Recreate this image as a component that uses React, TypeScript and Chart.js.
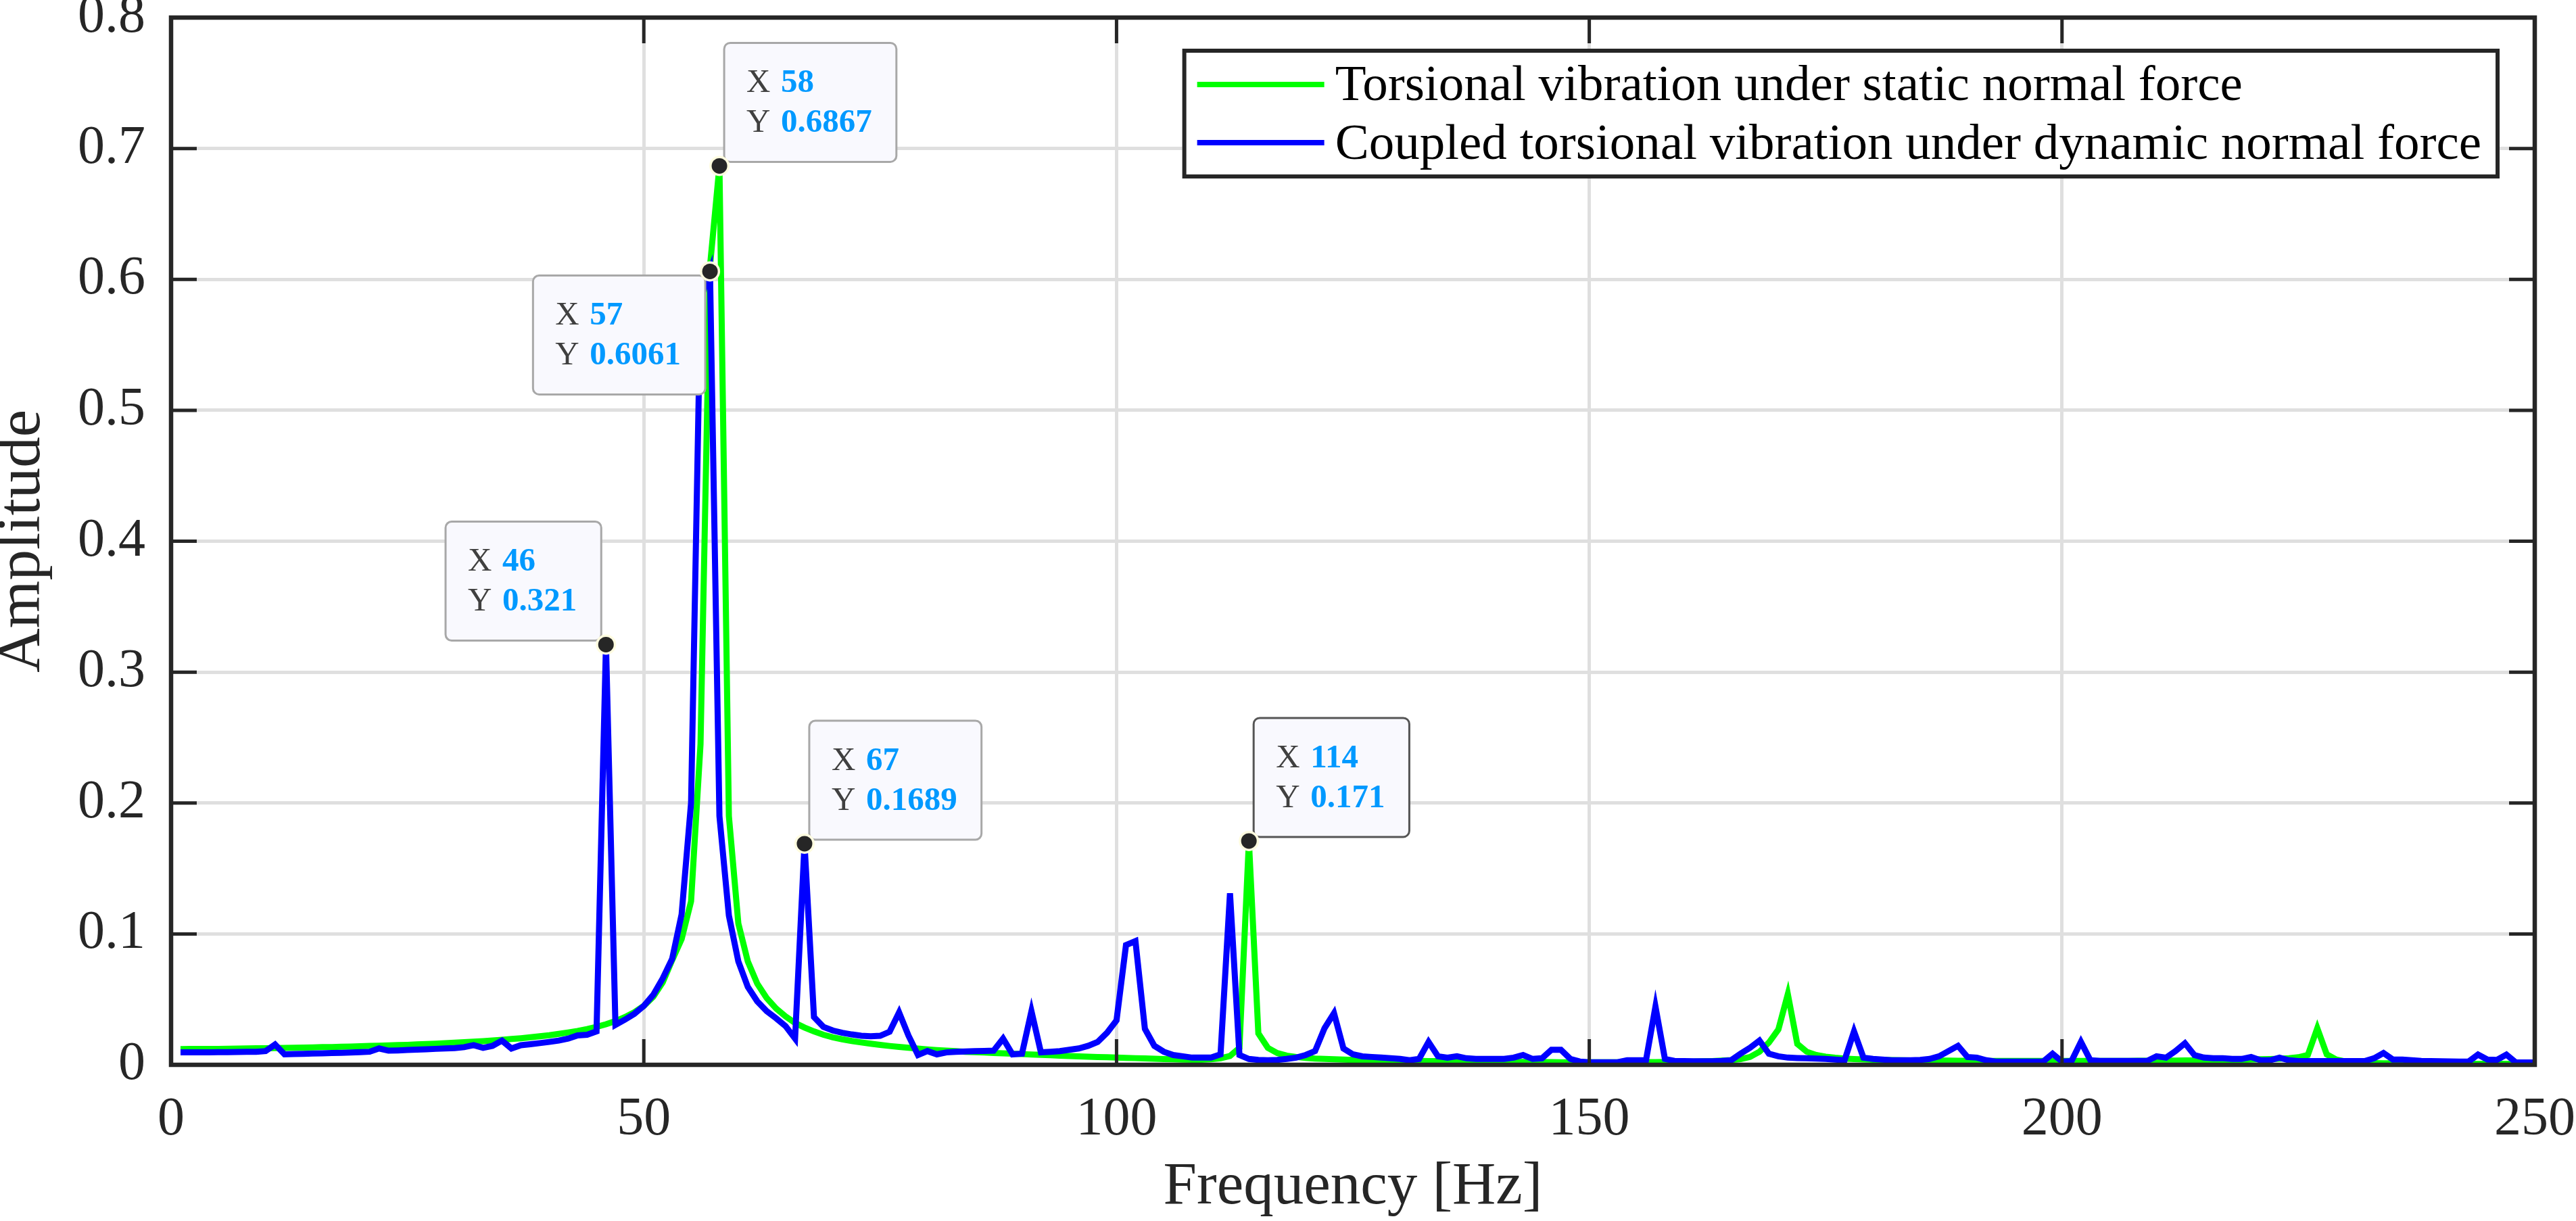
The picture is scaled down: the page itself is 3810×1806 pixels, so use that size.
import React, { useEffect, useRef } from 'react';
import { Chart, registerables } from 'chart.js';

Chart.register(...registerables);

// ---------------- data ----------------
const frequencyHz = [
  1, 2, 3, 4, 5, 6, 7, 8, 9, 10, 11, 12, 13, 14, 15, 16, 17, 18, 19, 20,
  21, 22, 23, 24, 25, 26, 27, 28, 29, 30, 31, 32, 33, 34, 35, 36, 37, 38, 39, 40,
  41, 42, 43, 44, 45, 46, 47, 48, 49, 50, 51, 52, 53, 54, 55, 56, 57, 58, 59, 60,
  61, 62, 63, 64, 65, 66, 67, 68, 69, 70, 71, 72, 73, 74, 75, 76, 77, 78, 79, 80,
  81, 82, 83, 84, 85, 86, 87, 88, 89, 90, 91, 92, 93, 94, 95, 96, 97, 98, 99, 100,
  101, 102, 103, 104, 105, 106, 107, 108, 109, 110, 111, 112, 113, 114, 115, 116, 117, 118, 119, 120,
  121, 122, 123, 124, 125, 126, 127, 128, 129, 130, 131, 132, 133, 134, 135, 136, 137, 138, 139, 140,
  141, 142, 143, 144, 145, 146, 147, 148, 149, 150, 151, 152, 153, 154, 155, 156, 157, 158, 159, 160,
  161, 162, 163, 164, 165, 166, 167, 168, 169, 170, 171, 172, 173, 174, 175, 176, 177, 178, 179, 180,
  181, 182, 183, 184, 185, 186, 187, 188, 189, 190, 191, 192, 193, 194, 195, 196, 197, 198, 199, 200,
  201, 202, 203, 204, 205, 206, 207, 208, 209, 210, 211, 212, 213, 214, 215, 216, 217, 218, 219, 220,
  221, 222, 223, 224, 225, 226, 227, 228, 229, 230, 231, 232, 233, 234, 235, 236, 237, 238, 239, 240,
  241, 242, 243, 244, 245, 246, 247, 248, 249, 250,
];

// Torsional vibration under static normal force (green)
const staticForceAmplitude = [
  0.0120, 0.0121, 0.0121, 0.0122, 0.0122, 0.0123, 0.0124, 0.0125, 0.0126, 0.0127,
  0.0128, 0.0129, 0.0130, 0.0132, 0.0133, 0.0135, 0.0136, 0.0138, 0.0140, 0.0142,
  0.0144, 0.0146, 0.0148, 0.0151, 0.0153, 0.0156, 0.0159, 0.0162, 0.0165, 0.0169,
  0.0173, 0.0177, 0.0181, 0.0186, 0.0191, 0.0197, 0.0203, 0.0210, 0.0218, 0.0226,
  0.0236, 0.0247, 0.0259, 0.0273, 0.0290, 0.0310, 0.0334, 0.0364, 0.0402, 0.0450,
  0.0520, 0.0630, 0.0800, 0.0960, 0.1250, 0.2450, 0.6100, 0.6867, 0.1900, 0.1080,
  0.0790, 0.0620, 0.0510, 0.0430, 0.0370, 0.0320, 0.0285, 0.0255, 0.0230, 0.0210,
  0.0195, 0.0182, 0.0171, 0.0161, 0.0152, 0.0144, 0.0137, 0.0130, 0.0124, 0.0118,
  0.0113, 0.0108, 0.0104, 0.0100, 0.0097, 0.0094, 0.0091, 0.0088, 0.0085, 0.0082,
  0.0079, 0.0076, 0.0073, 0.0070, 0.0067, 0.0064, 0.0062, 0.0060, 0.0058, 0.0055,
  0.0053, 0.0051, 0.0049, 0.0046, 0.0044, 0.0042, 0.0040, 0.0039, 0.0039, 0.0042,
  0.0050, 0.0068, 0.0130, 0.1710, 0.0240, 0.0130, 0.0090, 0.0070, 0.0060, 0.0053,
  0.0048, 0.0045, 0.0042, 0.0040, 0.0038, 0.0037, 0.0036, 0.0035, 0.0034, 0.0033,
  0.0031, 0.0030, 0.0029, 0.0028, 0.0027, 0.0026, 0.0025, 0.0024, 0.0024, 0.0023,
  0.0023, 0.0022, 0.0022, 0.0021, 0.0021, 0.0021, 0.0020, 0.0020, 0.0020, 0.0020,
  0.0020, 0.0020, 0.0020, 0.0020, 0.0020, 0.0021, 0.0021, 0.0022, 0.0023, 0.0024,
  0.0025, 0.0027, 0.0029, 0.0032, 0.0036, 0.0043, 0.0060, 0.0100, 0.0170, 0.0270,
  0.0540, 0.0160, 0.0100, 0.0075, 0.0062, 0.0054, 0.0048, 0.0044, 0.0041, 0.0039,
  0.0037, 0.0036, 0.0035, 0.0034, 0.0033, 0.0033, 0.0032, 0.0032, 0.0031, 0.0031,
  0.0031, 0.0030, 0.0030, 0.0030, 0.0030, 0.0030, 0.0030, 0.0030, 0.0030, 0.0030,
  0.0030, 0.0030, 0.0030, 0.0030, 0.0030, 0.0030, 0.0030, 0.0031, 0.0031, 0.0031,
  0.0032, 0.0032, 0.0033, 0.0033, 0.0034, 0.0035, 0.0036, 0.0037, 0.0038, 0.0040,
  0.0042, 0.0044, 0.0047, 0.0051, 0.0058, 0.0075, 0.0280, 0.0080, 0.0040, 0.0025,
  0.0018, 0.0015, 0.0013, 0.0012, 0.0011, 0.0010, 0.0010, 0.0010, 0.0009, 0.0009,
  0.0009, 0.0009, 0.0008, 0.0008, 0.0008, 0.0008, 0.0008, 0.0008, 0.0008, 0.0008,
];

// Coupled torsional vibration under dynamic normal force (blue)
const dynamicForceAmplitude = [
  0.0095, 0.0095, 0.0096, 0.0096, 0.0097, 0.0097, 0.0098, 0.0099, 0.0100, 0.0105,
  0.0155, 0.0080, 0.0082, 0.0084, 0.0086, 0.0088, 0.0090, 0.0092, 0.0094, 0.0097,
  0.0100, 0.0125, 0.0108, 0.0110, 0.0113, 0.0116, 0.0119, 0.0122, 0.0125, 0.0128,
  0.0135, 0.0150, 0.0130, 0.0145, 0.0185, 0.0125, 0.0150, 0.0158, 0.0166, 0.0175,
  0.0185, 0.0200, 0.0225, 0.0230, 0.0255, 0.3210, 0.0305, 0.0345, 0.0390, 0.0450,
  0.0535, 0.0660, 0.0810, 0.1150, 0.2000, 0.5850, 0.6061, 0.1900, 0.1140, 0.0790,
  0.0595, 0.0485, 0.0410, 0.0355, 0.0295, 0.0200, 0.1689, 0.0365, 0.0290, 0.0262,
  0.0245, 0.0232, 0.0222, 0.0218, 0.0222, 0.0253, 0.0400, 0.0222, 0.0075, 0.0105,
  0.0080, 0.0095, 0.0100, 0.0102, 0.0104, 0.0106, 0.0108, 0.0200, 0.0080, 0.0085,
  0.0410, 0.0095, 0.0100, 0.0105, 0.0115, 0.0125, 0.0145, 0.0175, 0.0245, 0.0340,
  0.0915, 0.0945, 0.0275, 0.0145, 0.0100, 0.0075, 0.0065, 0.0055, 0.0055, 0.0055,
  0.0080, 0.1310, 0.0075, 0.0045, 0.0038, 0.0035, 0.0037, 0.0045, 0.0055, 0.0075,
  0.0105, 0.0280, 0.0395, 0.0125, 0.0080, 0.0065, 0.0060, 0.0055, 0.0050, 0.0045,
  0.0035, 0.0045, 0.0175, 0.0065, 0.0055, 0.0065, 0.0050, 0.0045, 0.0045, 0.0045,
  0.0045, 0.0055, 0.0075, 0.0045, 0.0050, 0.0115, 0.0115, 0.0045, 0.0025, 0.0020,
  0.0020, 0.0020, 0.0020, 0.0035, 0.0035, 0.0035, 0.0445, 0.0045, 0.0030, 0.0028,
  0.0027, 0.0027, 0.0027, 0.0030, 0.0035, 0.0085, 0.0130, 0.0185, 0.0085, 0.0065,
  0.0055, 0.0052, 0.0050, 0.0048, 0.0045, 0.0040, 0.0035, 0.0255, 0.0055, 0.0045,
  0.0040, 0.0035, 0.0035, 0.0035, 0.0038, 0.0045, 0.0065, 0.0105, 0.0145, 0.0060,
  0.0055, 0.0035, 0.0025, 0.0025, 0.0025, 0.0025, 0.0025, 0.0025, 0.0085, 0.0025,
  0.0028, 0.0175, 0.0035, 0.0030, 0.0030, 0.0030, 0.0030, 0.0030, 0.0030, 0.0065,
  0.0055, 0.0105, 0.0165, 0.0075, 0.0055, 0.0050, 0.0050, 0.0045, 0.0045, 0.0060,
  0.0035, 0.0035, 0.0055, 0.0035, 0.0028, 0.0028, 0.0028, 0.0028, 0.0028, 0.0028,
  0.0028, 0.0028, 0.0050, 0.0090, 0.0040, 0.0040, 0.0035, 0.0030, 0.0028, 0.0027,
  0.0026, 0.0025, 0.0025, 0.0078, 0.0040, 0.0038, 0.0078, 0.0018, 0.0018, 0.0018,
];

const seriesLabels = [
  'Torsional vibration under static normal force',
  'Coupled torsional vibration under dynamic normal force',
];
const seriesColors = ['#00FF00', '#0000FF'];

const xAxisTitle = 'Frequency [Hz]';
const yAxisTitle = 'Amplitude';
const xMin = 0;
const xMax = 250;
const xStep = 50;
const yMin = 0;
const yMax = 0.8;
const yStep = 0.1;

// data tips
const tipFreq = ['58', '57', '46', '67', '114'];
const tipAmp = ['0.6867', '0.6061', '0.321', '0.1689', '0.171'];
const tipPlacement = ['ur', 'll', 'ul', 'ur', 'ur'];
const activeTip = 4;

// ---------------- styles ----------------
const FONT = "'Liberation Serif', 'Times New Roman', Times, serif";
const AXIS_COLOR = '#262626';
const GRID_COLOR = '#DFDFDF';
const TICK_LEN = 38;
const LINE_WIDTH = 9;

const overlayPlugin = {
  id: 'matlabOverlay',
  afterDatasetsDraw(chart: any) {
    const { ctx, chartArea: a, scales } = chart;
    const xs = scales.x;
    const ys = scales.y;
    ctx.save();
    ctx.strokeStyle = AXIS_COLOR;
    ctx.lineCap = 'butt';
    ctx.lineWidth = 5;
    ctx.beginPath();
    for (const t of xs.ticks) {
      const px = xs.getPixelForValue(t.value);
      ctx.moveTo(px, a.bottom);
      ctx.lineTo(px, a.bottom - TICK_LEN);
      ctx.moveTo(px, a.top);
      ctx.lineTo(px, a.top + TICK_LEN);
    }
    for (const t of ys.ticks) {
      const py = ys.getPixelForValue(t.value);
      ctx.moveTo(a.left, py);
      ctx.lineTo(a.left + TICK_LEN, py);
      ctx.moveTo(a.right, py);
      ctx.lineTo(a.right - TICK_LEN, py);
    }
    ctx.stroke();
    ctx.lineWidth = 6.5;
    ctx.strokeRect(a.left, a.top, a.right - a.left, a.bottom - a.top);
    ctx.restore();
  },
  afterDraw(chart: any) {
    const { ctx, chartArea: a, scales } = chart;
    const xs = scales.x;
    const ys = scales.y;

    // ---- legend ----
    ctx.save();
    const legFont = `75px ${FONT}`;
    ctx.font = legFont;
    const maxW = Math.max(...seriesLabels.map((s) => ctx.measureText(s).width));
    const lw = 226 + maxW + 27;
    const lh = 192;
    const lRight = a.right - 52;
    const lTop = a.top + 46;
    const lLeft = lRight - lw;
    ctx.fillStyle = '#FFFFFF';
    ctx.fillRect(lLeft, lTop, lw, lh);
    ctx.lineWidth = 6;
    ctx.strokeStyle = AXIS_COLOR;
    ctx.strokeRect(lLeft + 3, lTop + 3, lw - 6, lh - 6);
    const lineYs = [53, 139];
    const baseYs = [76, 163];
    seriesLabels.forEach((label, i) => {
      ctx.strokeStyle = seriesColors[i];
      ctx.lineWidth = 8;
      ctx.beginPath();
      ctx.moveTo(lLeft + 22, lTop + lineYs[i]);
      ctx.lineTo(lLeft + 210, lTop + lineYs[i]);
      ctx.stroke();
      ctx.fillStyle = '#000000';
      ctx.font = legFont;
      ctx.textBaseline = 'alphabetic';
      ctx.textAlign = 'left';
      ctx.fillText(label, lLeft + 226, lTop + baseYs[i]);
    });
    ctx.restore();

    // ---- data tips ----
    ctx.save();
    const boldFont = `bold 49px ${FONT}`;
    const normFont = `49px ${FONT}`;
    tipFreq.forEach((fx, i) => {
      const px = xs.getPixelForValue(parseFloat(fx));
      const py = ys.getPixelForValue(parseFloat(tipAmp[i]));
      ctx.font = boldFont;
      const vw = Math.max(ctx.measureText(fx).width, ctx.measureText(tipAmp[i]).width);
      const w = 84 + vw + 36;
      const h = 176;
      let bx = px + 7;
      let by = py - 6 - h;
      if (tipPlacement[i] === 'ul') {
        bx = px - 7 - w;
      } else if (tipPlacement[i] === 'll') {
        bx = px - 7 - w;
        by = py + 6;
      }
      ctx.beginPath();
      if (ctx.roundRect) ctx.roundRect(bx, by, w, h, 9);
      else ctx.rect(bx, by, w, h);
      ctx.fillStyle = '#F9F9FE';
      ctx.fill();
      ctx.lineWidth = 3;
      ctx.strokeStyle = i === activeTip ? '#555555' : '#A8A8A8';
      ctx.stroke();

      ctx.textBaseline = 'alphabetic';
      ctx.textAlign = 'left';
      ctx.font = normFont;
      ctx.fillStyle = '#404040';
      ctx.fillText('X', bx + 33, by + 73);
      ctx.fillText('Y', bx + 33, by + 132);
      ctx.font = boldFont;
      ctx.fillStyle = '#0099FF';
      ctx.fillText(fx, bx + 84, by + 73);
      ctx.fillText(tipAmp[i], bx + 84, by + 132);

      // marker
      ctx.beginPath();
      ctx.arc(px, py, 15, 0, Math.PI * 2);
      ctx.fillStyle = '#FFFCE0';
      ctx.fill();
      ctx.beginPath();
      ctx.arc(px, py, 11.5, 0, Math.PI * 2);
      ctx.fillStyle = '#262626';
      ctx.fill();
    });
    ctx.restore();
  },
};

export default function App() {
  const canvasRef = useRef<HTMLCanvasElement | null>(null);

  useEffect(() => {
    document.body.style.margin = '0';
    document.body.style.overflow = 'hidden';
    const canvas = canvasRef.current;
    if (!canvas) return;

    const toPoints = (vals: number[]) => frequencyHz.map((f, i) => ({ x: f, y: vals[i] }));

    const chart = new Chart(canvas, {
      type: 'line',
      data: {
        datasets: [
          {
            label: seriesLabels[0],
            data: toPoints(staticForceAmplitude),
            borderColor: seriesColors[0],
            backgroundColor: seriesColors[0],
            borderWidth: LINE_WIDTH,
            pointRadius: 0,
            tension: 0,
            fill: false,
            order: 1,
          },
          {
            label: seriesLabels[1],
            data: toPoints(dynamicForceAmplitude),
            borderColor: seriesColors[1],
            backgroundColor: seriesColors[1],
            borderWidth: LINE_WIDTH,
            pointRadius: 0,
            tension: 0,
            fill: false,
            order: 0,
          },
        ],
      },
      options: {
        responsive: false,
        maintainAspectRatio: false,
        animation: false,
        devicePixelRatio: 1,
        events: [],
        layout: { padding: { top: 26, right: 61, bottom: 0, left: 0 } },
        plugins: {
          legend: { display: false },
          tooltip: { enabled: false },
          title: { display: false },
        },
        scales: {
          x: {
            type: 'linear',
            min: xMin,
            max: xMax,
            ticks: {
              stepSize: xStep,
              font: { family: FONT, size: 80 },
              color: AXIS_COLOR,
              padding: 34,
              maxRotation: 0,
              autoSkip: false,
            },
            grid: { color: GRID_COLOR, lineWidth: 5, drawTicks: false },
            border: { display: false },
            title: {
              display: true,
              text: xAxisTitle,
              font: { family: FONT, size: 89, lineHeight: 1.1 },
              color: AXIS_COLOR,
              padding: 0,
            },
            afterFit: (s: any) => {
              s.height = 231;
              s.paddingLeft = 0;
              s.paddingRight = 0;
            },
          },
          y: {
            type: 'linear',
            min: yMin,
            max: yMax,
            ticks: {
              stepSize: yStep,
              font: { family: FONT, size: 80 },
              color: AXIS_COLOR,
              padding: 38,
            },
            grid: { color: GRID_COLOR, lineWidth: 5, drawTicks: false },
            border: { display: false },
            title: {
              display: true,
              text: yAxisTitle,
              font: { family: FONT, size: 91, lineHeight: 0.754 },
              color: AXIS_COLOR,
              padding: 0,
            },
            afterFit: (s: any) => {
              s.width = 253;
              s.paddingTop = 0;
              s.paddingBottom = 0;
            },
          },
        },
      } as any,
      plugins: [overlayPlugin],
    });

    const fonts: any = (document as any).fonts;
    if (fonts && fonts.load) {
      Promise.all([
        fonts.load(`80px "Liberation Serif"`),
        fonts.load(`bold 48px "Liberation Serif"`),
      ]).then(() => chart.update()).catch(() => {});
    }

    return () => {
      chart.destroy();
    };
  }, []);

  return (
    <div
      style={{
        position: 'fixed',
        left: 0,
        top: 0,
        width: 3810,
        height: 1806,
        background: '#FFFFFF',
        overflow: 'hidden',
      }}
    >
      <canvas
        ref={canvasRef}
        width={3810}
        height={1806}
        style={{ width: 3810, height: 1806, display: 'block' }}
      />
    </div>
  );
}
